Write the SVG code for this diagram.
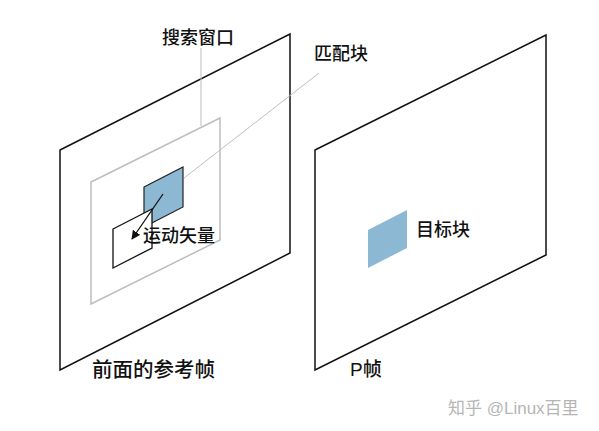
<svg xmlns="http://www.w3.org/2000/svg" width="599" height="431" viewBox="0 0 599 431">
<style>
text{font-family:"Liberation Sans","Noto Sans CJK SC",sans-serif;fill:#111;font-weight:500}
.frame{fill:none;stroke:#111;stroke-width:1.5}
.win{fill:none;stroke:#bdbdbd;stroke-width:1.5}
.lead{fill:none;stroke:#bdbdbd;stroke-width:1}
.blk{fill:#8db8d3}
</style>
<defs>
<marker id="ah" viewBox="0 0 10 10" refX="9" refY="5" markerWidth="9" markerHeight="9" orient="auto" markerUnits="userSpaceOnUse">
<path d="M0,0 L10,5 L0,10 z" fill="#111"/>
</marker>
</defs>
<rect width="599" height="431" fill="#fff"/>
<g id="ref-frame">
<polygon class="frame" points="60,150 290,34 290,253 60,370"/>
<text x="92" y="377" font-size="20.5">前面的参考帧</text>
</g>
<g id="search-window">
<polygon class="win" points="91,182 220,118 220,240 91,304"/>
<text x="162" y="44" font-size="18">搜索窗口</text>
</g>
<g id="match-block">
<polygon class="blk" points="144,187 183,167 183,207 144,227" stroke="#222" stroke-width="1.2"/>
<text x="314" y="60" font-size="18">匹配块</text>
</g>
<g id="displaced-block">
<polygon points="113,229 152,209 152,248 113,268" fill="#fff" stroke="#111" stroke-width="1.3"/>
</g>
<g id="p-frame">
<polygon class="frame" points="315,150 546,35 546,255 315,370"/>
<text x="350" y="376" font-size="19">P帧</text>
</g>
<g id="target-block">
<polygon class="blk" points="368,230 407,210 407,248 368,268"/>
<text x="416" y="236" font-size="18">目标块</text>
</g>
<g id="connectors">
<line class="lead" x1="201" y1="48" x2="201" y2="126"/>
<line class="lead" x1="319" y1="73" x2="184" y2="178"/>
<line x1="163" y1="194" x2="132" y2="239" stroke="#111" stroke-width="1.3" marker-end="url(#ah)"/>
</g>
<g id="motion-label">
<text x="143" y="242" font-size="18">运动矢量</text>
</g>
<g id="watermark">
<text x="448" y="414" font-size="17" style="fill:#b5b5b5;font-weight:400">知乎 @Linux百里</text>
</g>
</svg>
